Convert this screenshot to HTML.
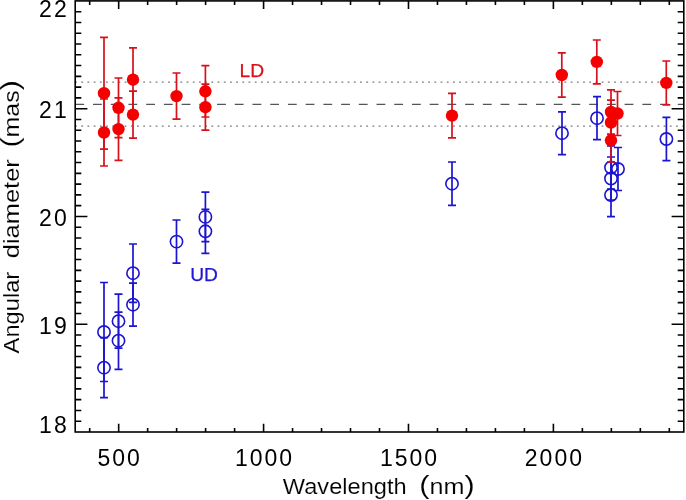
<!DOCTYPE html>
<html><head><meta charset="utf-8"><style>
html,body{margin:0;padding:0;background:#fff;width:686px;height:500px;overflow:hidden}
svg{display:block}
.t3{font-family:"Liberation Sans", sans-serif;font-size:21.4px;fill:#000;stroke:#fff;stroke-width:0.12px}
.d{font-family:"Liberation Sans", sans-serif;font-size:23px;letter-spacing:2px;fill:#000}
.t2{font-family:"Liberation Sans", sans-serif;font-size:19.2px;stroke-width:0.25px}
</style></head><body>
<svg width="686" height="500" viewBox="0 0 686 500">
<rect width="686" height="500" fill="#fff"/>
<line x1="75.1" y1="82.1" x2="683.8" y2="82.1" stroke="#787878" stroke-width="1.25" stroke-dasharray="1.8 4.395"/>
<line x1="75.1" y1="126.1" x2="683.8" y2="126.1" stroke="#787878" stroke-width="1.25" stroke-dasharray="1.8 4.395"/>
<line x1="75.3" y1="104.4" x2="683.8" y2="104.4" stroke="#555555" stroke-width="1.3" stroke-dasharray="8.8 8.92"/>
<path d="M104,282.5V381.5M100.0,282.5H108.0M100.0,381.5H108.0" stroke="#1c14d0" stroke-width="1.7" fill="none"/>
<path d="M104,337.7V397.7M100.0,337.7H108.0M100.0,397.7H108.0" stroke="#1c14d0" stroke-width="1.7" fill="none"/>
<path d="M118.5,294.2V348.2M114.5,294.2H122.5M114.5,348.2H122.5" stroke="#1c14d0" stroke-width="1.7" fill="none"/>
<path d="M118.5,312.1V369.3M114.5,312.1H122.5M114.5,369.3H122.5" stroke="#1c14d0" stroke-width="1.7" fill="none"/>
<path d="M133,244.0V302.4M129.0,244.0H137.0M129.0,302.4H137.0" stroke="#1c14d0" stroke-width="1.7" fill="none"/>
<path d="M133,283.2V326.2M129.0,283.2H137.0M129.0,326.2H137.0" stroke="#1c14d0" stroke-width="1.7" fill="none"/>
<path d="M176.5,220.0V263.2M172.5,220.0H180.5M172.5,263.2H180.5" stroke="#1c14d0" stroke-width="1.7" fill="none"/>
<path d="M205.4,192.2V241.6M201.4,192.2H209.4M201.4,241.6H209.4" stroke="#1c14d0" stroke-width="1.7" fill="none"/>
<path d="M205.4,209.3V253.3M201.4,209.3H209.4M201.4,253.3H209.4" stroke="#1c14d0" stroke-width="1.7" fill="none"/>
<path d="M452,162.0V205.4M448.0,162.0H456.0M448.0,205.4H456.0" stroke="#1c14d0" stroke-width="1.7" fill="none"/>
<path d="M562,111.8V154.6M558.0,111.8H566.0M558.0,154.6H566.0" stroke="#1c14d0" stroke-width="1.7" fill="none"/>
<path d="M597,96.7V139.7M593.0,96.7H601.0M593.0,139.7H601.0" stroke="#1c14d0" stroke-width="1.7" fill="none"/>
<path d="M611,146.0V189.0M607.0,146.0H615.0M607.0,189.0H615.0" stroke="#1c14d0" stroke-width="1.7" fill="none"/>
<path d="M611,157.0V200.0M607.0,157.0H615.0M607.0,200.0H615.0" stroke="#1c14d0" stroke-width="1.7" fill="none"/>
<path d="M611,173.3V216.7M607.0,173.3H615.0M607.0,216.7H615.0" stroke="#1c14d0" stroke-width="1.7" fill="none"/>
<path d="M618,147.5V190.5M614.0,147.5H622.0M614.0,190.5H622.0" stroke="#1c14d0" stroke-width="1.7" fill="none"/>
<path d="M666.4,117.3V160.7M662.4,117.3H670.4M662.4,160.7H670.4" stroke="#1c14d0" stroke-width="1.7" fill="none"/>
<circle cx="104" cy="332" r="6.15" fill="none" stroke="#1c14d0" stroke-width="1.6"/>
<circle cx="104" cy="367.7" r="6.15" fill="none" stroke="#1c14d0" stroke-width="1.6"/>
<circle cx="118.5" cy="321.2" r="6.15" fill="none" stroke="#1c14d0" stroke-width="1.6"/>
<circle cx="118.5" cy="340.7" r="6.15" fill="none" stroke="#1c14d0" stroke-width="1.6"/>
<circle cx="133" cy="273.2" r="6.15" fill="none" stroke="#1c14d0" stroke-width="1.6"/>
<circle cx="133" cy="304.7" r="6.15" fill="none" stroke="#1c14d0" stroke-width="1.6"/>
<circle cx="176.5" cy="241.6" r="6.15" fill="none" stroke="#1c14d0" stroke-width="1.6"/>
<circle cx="205.4" cy="216.9" r="6.15" fill="none" stroke="#1c14d0" stroke-width="1.6"/>
<circle cx="205.4" cy="231.3" r="6.15" fill="none" stroke="#1c14d0" stroke-width="1.6"/>
<circle cx="452" cy="183.7" r="6.15" fill="none" stroke="#1c14d0" stroke-width="1.6"/>
<circle cx="562" cy="133.2" r="6.15" fill="none" stroke="#1c14d0" stroke-width="1.6"/>
<circle cx="597" cy="118.2" r="6.15" fill="none" stroke="#1c14d0" stroke-width="1.6"/>
<circle cx="611" cy="167.5" r="6.15" fill="none" stroke="#1c14d0" stroke-width="1.6"/>
<circle cx="611" cy="178.5" r="6.15" fill="none" stroke="#1c14d0" stroke-width="1.6"/>
<circle cx="611" cy="195" r="6.15" fill="none" stroke="#1c14d0" stroke-width="1.6"/>
<circle cx="618" cy="169" r="6.15" fill="none" stroke="#1c14d0" stroke-width="1.6"/>
<circle cx="666.4" cy="139" r="6.15" fill="none" stroke="#1c14d0" stroke-width="1.6"/>
<path d="M104,37.3V149.1M100.0,37.3H108.0M100.0,149.1H108.0" stroke="#d8101c" stroke-width="1.7" fill="none"/>
<path d="M104,99.0V166.0M100.0,99.0H108.0M100.0,166.0H108.0" stroke="#d8101c" stroke-width="1.7" fill="none"/>
<path d="M118.5,78.0V137.6M114.5,78.0H122.5M114.5,137.6H122.5" stroke="#d8101c" stroke-width="1.7" fill="none"/>
<path d="M118.5,97.9V160.3M114.5,97.9H122.5M114.5,160.3H122.5" stroke="#d8101c" stroke-width="1.7" fill="none"/>
<path d="M133,47.9V111.5M129.0,47.9H137.0M129.0,111.5H137.0" stroke="#d8101c" stroke-width="1.7" fill="none"/>
<path d="M133,91.1V138.1M129.0,91.1H137.0M129.0,138.1H137.0" stroke="#d8101c" stroke-width="1.7" fill="none"/>
<path d="M176.5,73.0V119.2M172.5,73.0H180.5M172.5,119.2H180.5" stroke="#d8101c" stroke-width="1.7" fill="none"/>
<path d="M205.4,65.6V117.0M201.4,65.6H209.4M201.4,117.0H209.4" stroke="#d8101c" stroke-width="1.7" fill="none"/>
<path d="M205.4,84.2V130.2M201.4,84.2H209.4M201.4,130.2H209.4" stroke="#d8101c" stroke-width="1.7" fill="none"/>
<path d="M452,93.4V137.8M448.0,93.4H456.0M448.0,137.8H456.0" stroke="#d8101c" stroke-width="1.7" fill="none"/>
<path d="M561.8,52.8V97.2M557.8,52.8H565.8M557.8,97.2H565.8" stroke="#d8101c" stroke-width="1.7" fill="none"/>
<path d="M596.8,40.0V83.8M592.8,40.0H600.8M592.8,83.8H600.8" stroke="#d8101c" stroke-width="1.7" fill="none"/>
<path d="M611,89.8V134.2M607.0,89.8H615.0M607.0,134.2H615.0" stroke="#d8101c" stroke-width="1.7" fill="none"/>
<path d="M611,100.2V144.8M607.0,100.2H615.0M607.0,144.8H615.0" stroke="#d8101c" stroke-width="1.7" fill="none"/>
<path d="M611,118.7V161.9M607.0,118.7H615.0M607.0,161.9H615.0" stroke="#d8101c" stroke-width="1.7" fill="none"/>
<path d="M617.5,91.5V135.5M613.5,91.5H621.5M613.5,135.5H621.5" stroke="#d8101c" stroke-width="1.7" fill="none"/>
<path d="M666.3,61.0V104.8M662.3,61.0H670.3M662.3,104.8H670.3" stroke="#d8101c" stroke-width="1.7" fill="none"/>
<circle cx="104" cy="93.2" r="6.2" fill="#f40000"/>
<circle cx="104" cy="132.5" r="6.2" fill="#f40000"/>
<circle cx="118.5" cy="107.8" r="6.2" fill="#f40000"/>
<circle cx="118.5" cy="129.1" r="6.2" fill="#f40000"/>
<circle cx="133" cy="79.7" r="6.2" fill="#f40000"/>
<circle cx="133" cy="114.6" r="6.2" fill="#f40000"/>
<circle cx="176.5" cy="96.1" r="6.2" fill="#f40000"/>
<circle cx="205.4" cy="91.3" r="6.2" fill="#f40000"/>
<circle cx="205.4" cy="107.2" r="6.2" fill="#f40000"/>
<circle cx="452" cy="115.6" r="6.2" fill="#f40000"/>
<circle cx="561.8" cy="75" r="6.2" fill="#f40000"/>
<circle cx="596.8" cy="61.9" r="6.2" fill="#f40000"/>
<circle cx="611" cy="112" r="6.2" fill="#f40000"/>
<circle cx="611" cy="122.5" r="6.2" fill="#f40000"/>
<circle cx="611" cy="140.3" r="6.2" fill="#f40000"/>
<circle cx="617.5" cy="113.5" r="6.2" fill="#f40000"/>
<circle cx="666.3" cy="82.9" r="6.2" fill="#f40000"/>
<path d="M89.69,432.0v-4.1M89.69,0.9v4.1M118.67,432.0v-8.2M118.67,0.9v8.2M147.65,432.0v-4.1M147.65,0.9v4.1M176.63,432.0v-4.1M176.63,0.9v4.1M205.61,432.0v-4.1M205.61,0.9v4.1M234.60,432.0v-4.1M234.60,0.9v4.1M263.58,432.0v-8.2M263.58,0.9v8.2M292.56,432.0v-4.1M292.56,0.9v4.1M321.54,432.0v-4.1M321.54,0.9v4.1M350.52,432.0v-4.1M350.52,0.9v4.1M379.50,432.0v-4.1M379.50,0.9v4.1M408.48,432.0v-8.2M408.48,0.9v8.2M437.46,432.0v-4.1M437.46,0.9v4.1M466.44,432.0v-4.1M466.44,0.9v4.1M495.42,432.0v-4.1M495.42,0.9v4.1M524.40,432.0v-4.1M524.40,0.9v4.1M553.39,432.0v-8.2M553.39,0.9v8.2M582.37,432.0v-4.1M582.37,0.9v4.1M611.35,432.0v-4.1M611.35,0.9v4.1M640.33,432.0v-4.1M640.33,0.9v4.1M669.31,432.0v-4.1M669.31,0.9v4.1M75.2,421.22h6.1M683.8,421.22h-6.1M75.2,410.45h6.1M683.8,410.45h-6.1M75.2,399.67h6.1M683.8,399.67h-6.1M75.2,388.89h6.1M683.8,388.89h-6.1M75.2,378.11h6.1M683.8,378.11h-6.1M75.2,367.33h6.1M683.8,367.33h-6.1M75.2,356.56h6.1M683.8,356.56h-6.1M75.2,345.78h6.1M683.8,345.78h-6.1M75.2,335.00h6.1M683.8,335.00h-6.1M75.2,324.23h12.2M683.8,324.23h-12.2M75.2,313.45h6.1M683.8,313.45h-6.1M75.2,302.67h6.1M683.8,302.67h-6.1M75.2,291.89h6.1M683.8,291.89h-6.1M75.2,281.12h6.1M683.8,281.12h-6.1M75.2,270.34h6.1M683.8,270.34h-6.1M75.2,259.56h6.1M683.8,259.56h-6.1M75.2,248.78h6.1M683.8,248.78h-6.1M75.2,238.00h6.1M683.8,238.00h-6.1M75.2,227.23h6.1M683.8,227.23h-6.1M75.2,216.45h12.2M683.8,216.45h-12.2M75.2,205.67h6.1M683.8,205.67h-6.1M75.2,194.90h6.1M683.8,194.90h-6.1M75.2,184.12h6.1M683.8,184.12h-6.1M75.2,173.34h6.1M683.8,173.34h-6.1M75.2,162.56h6.1M683.8,162.56h-6.1M75.2,151.78h6.1M683.8,151.78h-6.1M75.2,141.01h6.1M683.8,141.01h-6.1M75.2,130.23h6.1M683.8,130.23h-6.1M75.2,119.45h6.1M683.8,119.45h-6.1M75.2,108.68h12.2M683.8,108.68h-12.2M75.2,97.90h6.1M683.8,97.90h-6.1M75.2,87.12h6.1M683.8,87.12h-6.1M75.2,76.34h6.1M683.8,76.34h-6.1M75.2,65.57h6.1M683.8,65.57h-6.1M75.2,54.79h6.1M683.8,54.79h-6.1M75.2,44.01h6.1M683.8,44.01h-6.1M75.2,33.23h6.1M683.8,33.23h-6.1M75.2,22.45h6.1M683.8,22.45h-6.1M75.2,11.68h6.1M683.8,11.68h-6.1" stroke="#000" stroke-width="1.6" fill="none"/>
<rect x="75.2" y="0.9" width="608.60" height="431.10" fill="none" stroke="#000" stroke-width="1.6"/>
<text x="68.7" y="17.0" text-anchor="end" class="d">22</text>
<text x="68.7" y="118.2" text-anchor="end" class="d">21</text>
<text x="68.7" y="226.0" text-anchor="end" class="d">20</text>
<text x="68.7" y="333.6" text-anchor="end" class="d">19</text>
<text x="68.7" y="432.8" text-anchor="end" class="d">18</text>
<text x="119.67" y="465.5" text-anchor="middle" class="d">500</text>
<text x="264.58" y="465.5" text-anchor="middle" class="d">1000</text>
<text x="409.48" y="465.5" text-anchor="middle" class="d">1500</text>
<text x="554.39" y="465.5" text-anchor="middle" class="d">2000</text>
<text x="282.8" y="493.5" class="t3" textLength="123.8" lengthAdjust="spacingAndGlyphs">Wavelength</text>
<text x="419.3" y="493.5" class="t3" textLength="55.4" lengthAdjust="spacingAndGlyphs"><tspan font-size="26">(</tspan>nm<tspan font-size="26">)</tspan></text>
<g transform="translate(19,0) rotate(-90)"><text x="-353.4" y="0" class="t3" textLength="81.6" lengthAdjust="spacingAndGlyphs">Angular</text><text x="-258.2" y="0" class="t3" textLength="99.0" lengthAdjust="spacingAndGlyphs">diameter</text><text x="-147.6" y="0" class="t3" textLength="67.4" lengthAdjust="spacingAndGlyphs"><tspan font-size="26">(</tspan>mas<tspan font-size="26">)</tspan></text></g>
<text x="239.6" y="76.5" class="t2" fill="#dc1018" stroke="#dc1018">LD</text>
<text x="190.2" y="281.4" class="t2" fill="#2016d4" stroke="#2016d4">UD</text>
</svg>
</body></html>
